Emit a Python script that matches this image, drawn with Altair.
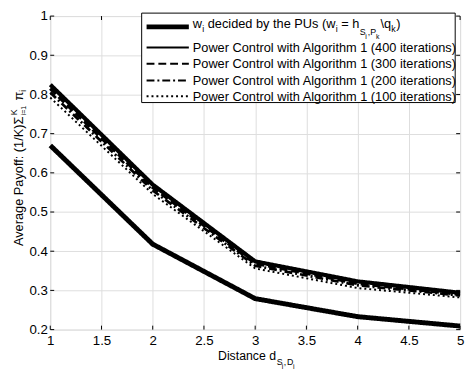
import altair as alt
import pandas as pd

# ---- data ----
distance = [1, 2, 3, 4, 5]
pu_vals = [0.670, 0.418, 0.279, 0.233, 0.209]
it400 = [0.825, 0.570, 0.374, 0.323, 0.294]
it300 = [0.815, 0.563, 0.369, 0.318, 0.290]
it200 = [0.805, 0.555, 0.363, 0.313, 0.287]
it100 = [0.792, 0.546, 0.356, 0.306, 0.282]

series_names = ["PU", "400", "300", "200", "100"]
series_vals = [pu_vals, it400, it300, it200, it100]
legend_labels = [
    None,
    "Power Control with Algorithm 1 (400 iterations)",
    "Power Control with Algorithm 1 (300 iterations)",
    "Power Control with Algorithm 1 (200 iterations)",
    "Power Control with Algorithm 1 (100 iterations)",
]
x_ticks = [1, 1.5, 2, 2.5, 3, 3.5, 4, 4.5, 5]
y_ticks = [0.2, 0.3, 0.4, 0.5, 0.6, 0.7, 0.8, 0.9, 1.0]

# ---- styles ----
dashes = [[1, 0], [1, 0], [8, 4], [8, 3, 2, 3], [2, 3]]
widths = [5, 2, 2, 2, 2]
FONT = "Liberation Sans"
W, H = 417, 319

rows = []
for name, vals in zip(series_names, series_vals):
    for xv, yv in zip(distance, vals):
        rows.append({"x": xv, "y": yv, "series": name})
df = pd.DataFrame(rows)

xscale = alt.Scale(domain=[1, 5], nice=False)
yscale = alt.Scale(domain=[0.2, 1.0], nice=False)
xaxis = alt.Axis(values=x_ticks, format="~g", title=None, grid=True,
                 ticks=False, tickSize=0, domain=False, labelPadding=4,
                 labelOverlap=False, labelFlush=False,
                 labelFont=FONT, labelFontSize=13.5, labelColor="black")
yaxis = alt.Axis(values=y_ticks, format="~g", title=None, grid=True,
                 ticks=False, tickSize=0, domain=False, labelPadding=3,
                 labelOverlap=False, labelFlush=False,
                 labelFont=FONT, labelFontSize=13.5, labelColor="black")

lines = alt.Chart(df).mark_line(color="black", strokeCap="butt", strokeJoin="miter").encode(
    x=alt.X("x:Q", scale=xscale, axis=xaxis),
    y=alt.Y("y:Q", scale=yscale, axis=yaxis),
    strokeDash=alt.StrokeDash("series:N", scale=alt.Scale(domain=series_names, range=dashes), legend=None),
    strokeWidth=alt.StrokeWidth("series:N", scale=alt.Scale(domain=series_names, range=widths), legend=None),
    detail="series:N",
)

# inward ticks
xt = pd.DataFrame({"t": x_ticks})
yt = pd.DataFrame({"t": y_ticks})
tick_layers = [
    alt.Chart(xt).mark_rule(color="black", strokeWidth=1).encode(
        x=alt.X("t:Q", scale=xscale, axis=xaxis), y=alt.value(H), y2=alt.value(H - 4)),
    alt.Chart(xt).mark_rule(color="black", strokeWidth=1).encode(
        x=alt.X("t:Q", scale=xscale, axis=xaxis), y=alt.value(0), y2=alt.value(4)),
    alt.Chart(yt).mark_rule(color="black", strokeWidth=1).encode(
        y=alt.Y("t:Q", scale=yscale, axis=yaxis), x=alt.value(0), x2=alt.value(4)),
    alt.Chart(yt).mark_rule(color="black", strokeWidth=1).encode(
        y=alt.Y("t:Q", scale=yscale, axis=yaxis), x=alt.value(W), x2=alt.value(W - 4)),
]

one = pd.DataFrame({"a": [0]})


def txt(s, x, y, size, angle=0, baseline="alphabetic"):
    kw = dict(align="left", baseline=baseline, font=FONT, fontSize=size, color="black")
    if angle:
        kw["angle"] = angle
    return alt.Chart(one).mark_text(text=s, **kw).encode(x=alt.value(x), y=alt.value(y))


# legend
legend_layers = [
    alt.Chart(one).mark_rect(fill="white", stroke="black", strokeWidth=1).encode(
        x=alt.value(93), x2=alt.value(412), y=alt.value(-3), y2=alt.value(88))
]
row_y = [11, 32, 48.5, 65.5, 81.5]
for i in range(5):
    legend_layers.append(
        alt.Chart(one).mark_rule(color="black", strokeWidth=widths[i], strokeDash=dashes[i]).encode(
            x=alt.value(98), x2=alt.value(141), y=alt.value(row_y[i]))
    )
    if legend_labels[i]:
        legend_layers.append(txt(legend_labels[i], 145, row_y[i] + 0.5, 13, baseline="middle"))

LF = 13
legend_layers += [
    txt("w", 145, 12, LF),
    txt("i", 154.6, 16, 9),
    txt("decided by the PUs (w", 160.2, 12, LF),
    txt("i", 290.5, 16, 9),
    txt("= h", 296, 12, LF),
    txt("S", 315, 19, 9),
    txt("i", 320.5, 23, 7),
    txt(",P", 323, 19, 9),
    txt("k", 331.5, 23, 7),
    txt("\\q", 336, 12, LF),
    txt("k", 347, 16, 9),
    txt(")", 352, 12, LF),
]

# axis titles
title_layers = [
    txt("Distance d", 170.7, 350, 12.5),
    txt("S", 230.5, 355, 9),
    txt("i", 235.5, 359, 7),
    txt(",", 237.5, 355, 9),
    txt("D", 241, 355, 9),
    txt("i", 247, 359, 7),
    # y title (rotated)
    txt("Average Payoff: (1/K)Σ", -28, 234, 13, angle=270),
    txt("K", -34, 101, 9, angle=270),
    txt("i=1", -25, 101, 7, angle=270),
    txt("π", -28, 86, 13, angle=270),
    txt("i", -25, 77, 9, angle=270),
]

chart = alt.layer(lines, *tick_layers, *legend_layers, *title_layers).properties(
    width=W, height=H,
    autosize=alt.AutoSizeParams(type="none"),
    padding={"left": 43, "top": 5, "right": 6, "bottom": 44},
).configure_view(
    stroke="black", strokeWidth=1
).configure_axis(
    gridColor="#777", gridDash=[1, 3], gridWidth=1, gridOpacity=1,
).configure(background="white")

chart.save("out.html", embed_options={"renderer": "svg", "actions": False})
